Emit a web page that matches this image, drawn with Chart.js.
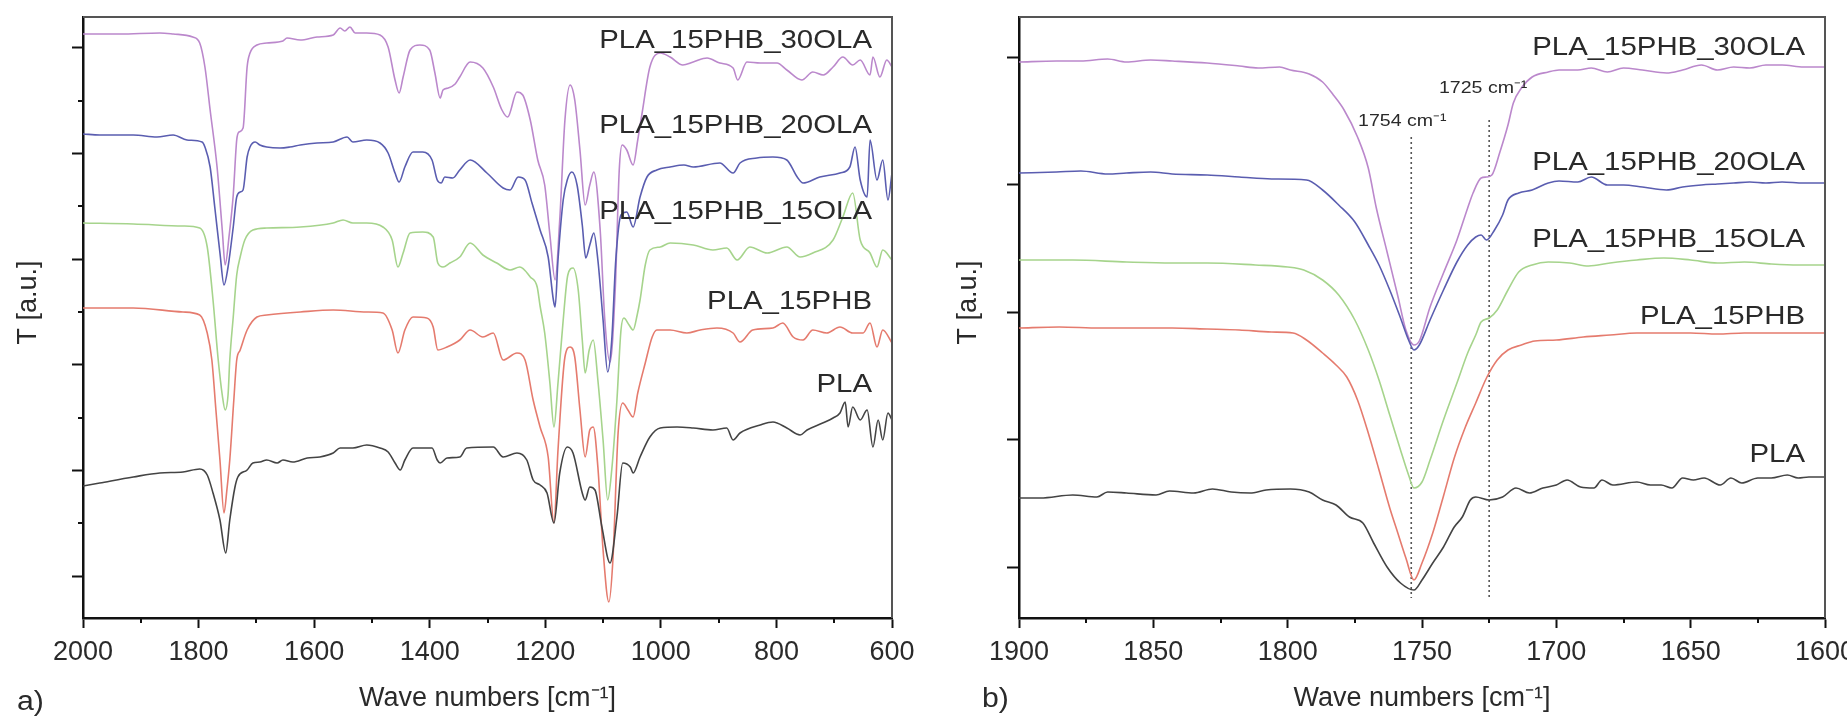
<!DOCTYPE html>
<html>
<head>
<meta charset="utf-8">
<script src="https://cdn.jsdelivr.net/npm/chart.js@4.4.1/dist/chart.umd.min.js"></script>
<style>
html,body{margin:0;padding:0;background:#fff;overflow:hidden;width:1847px;height:723px;}
#wa{position:absolute;left:0;top:0;width:930px;height:723px;}
#wb{position:absolute;left:930px;top:0;width:917px;height:723px;}
canvas{display:block;}
</style>
</head>
<body>
<div id="wa"><canvas id="ca" width="930" height="723"></canvas></div>
<div id="wb"><canvas id="cb" width="917" height="723"></canvas></div>
<script>
// ---------- series ----------
const seriesNames = ['PLA', 'PLA_15PHB', 'PLA_15PHB_15OLA', 'PLA_15PHB_20OLA', 'PLA_15PHB_30OLA'];

// ---------- panel a : 2000-600 cm-1 (T in a.u.) ----------
const a_PLA_wn = [2000,1971,1913,1867,1827,1798,1785,1775,1763,1753,1746,1737,1732,1716,1706,1694,1682,1664,1654,1637,1612,1590,1567,1555,1533,1509,1486,1472,1460,1451,1443,1429,1396,1387,1382,1370,1348,1336,1290,1273,1249,1232,1221,1209,1197,1185,1175,1162,1152,1136,1131,1123,1114,1102,1088,1076,1066,1053,1048,1036,1019,1001,972,944,910,886,875,863,828,806,782,759,747,720,702,690,681,676,668,655,643,633,624,616,607,600];
const a_PLA_T  = [132,135,141,145,146,149,143,125,98,65,98,131,141,148,155,156,158,155,158,156,160,161,165,170,170,173,170,166,155,148,158,170,170,158,155,160,161,170,171,161,165,158,138,133,125,95,145,171,165,125,118,131,128,91,55,101,155,151,145,161,181,190,191,190,188,190,178,185,193,196,190,183,188,195,200,205,216,191,211,198,208,171,198,178,205,198];

const a_PHB_wn = [2000,1913,1827,1798,1785,1777,1770,1763,1756,1751,1746,1739,1734,1728,1716,1699,1682,1624,1567,1509,1481,1465,1455,1443,1429,1405,1394,1386,1370,1348,1330,1308,1290,1273,1249,1235,1221,1209,1195,1185,1178,1166,1157,1149,1140,1131,1123,1117,1109,1100,1090,1083,1074,1066,1057,1048,1040,1027,1015,1007,984,955,932,903,875,863,841,806,789,771,754,737,713,690,668,650,638,626,616,600];
const a_PHB_T  = [310,310,306,303,285,258,208,158,105,128,158,218,258,268,288,301,303,306,308,306,305,288,265,288,301,300,291,268,271,278,288,281,285,258,265,258,218,191,161,95,168,261,271,261,208,161,188,191,151,68,16,58,185,215,208,201,225,255,281,288,288,285,288,290,285,276,288,290,295,281,278,288,285,291,285,285,295,271,288,275];

const a_15OLA_wn = [2000,1913,1827,1798,1785,1775,1766,1759,1754,1749,1746,1740,1734,1728,1720,1706,1682,1624,1567,1550,1533,1509,1481,1465,1455,1446,1434,1412,1394,1386,1377,1365,1348,1330,1308,1284,1261,1244,1226,1214,1209,1201,1192,1185,1178,1169,1161,1152,1143,1136,1131,1124,1117,1109,1100,1092,1085,1076,1069,1064,1055,1048,1041,1036,1027,1019,1001,984,944,910,886,868,846,816,782,759,737,702,685,668,655,638,626,616,600];
const a_15OLA_T  = [395,394,392,390,371,318,258,223,208,223,258,301,343,361,378,388,390,391,395,398,395,395,391,378,351,365,385,386,381,355,351,355,361,375,363,355,348,351,341,331,312,285,235,191,235,298,343,350,328,278,245,268,278,238,178,118,148,218,288,300,293,288,303,318,353,368,371,375,373,368,370,358,371,365,371,361,365,378,401,425,378,365,351,368,358];

const a_20OLA_wn = [2000,1971,1913,1872,1844,1820,1794,1789,1780,1772,1763,1756,1749,1740,1734,1728,1723,1716,1711,1702,1694,1682,1659,1642,1624,1595,1567,1543,1533,1509,1486,1472,1460,1453,1443,1429,1412,1396,1387,1380,1374,1360,1348,1330,1301,1273,1261,1247,1235,1223,1209,1195,1186,1183,1178,1169,1162,1154,1145,1136,1130,1123,1116,1109,1100,1092,1085,1078,1069,1059,1048,1036,1024,1007,984,960,944,898,875,863,834,806,782,764,754,725,690,673,664,655,643,638,626,616,607,600];
const a_20OLA_T  = [484,483,483,481,483,478,476,471,451,411,365,333,351,391,421,426,428,461,471,476,473,471,470,471,473,475,476,481,476,478,475,465,445,436,451,466,466,458,438,435,441,440,448,458,445,430,428,441,438,415,388,361,318,311,358,418,438,446,433,393,360,373,385,358,298,246,278,358,403,406,391,421,441,448,451,453,451,455,445,455,460,461,458,441,435,441,445,451,471,438,421,478,438,458,418,445];

const a_30OLA_wn = [2000,1936,1867,1844,1810,1798,1789,1780,1768,1759,1754,1747,1740,1734,1730,1723,1716,1711,1699,1682,1654,1647,1624,1595,1567,1555,1547,1538,1529,1509,1486,1472,1460,1453,1446,1434,1417,1400,1391,1382,1377,1368,1356,1348,1330,1308,1290,1275,1265,1249,1239,1226,1213,1201,1192,1183,1175,1166,1157,1149,1140,1131,1123,1116,1105,1097,1088,1079,1072,1067,1059,1048,1040,1033,1019,1001,984,962,944,920,898,875,867,851,828,799,782,756,737,719,702,685,668,655,638,633,621,609,600];
const a_30OLA_T  = [584,584,585,584,581,575,551,508,451,388,353,383,423,478,486,490,551,565,573,575,577,580,578,581,583,590,587,591,585,585,583,571,538,525,541,568,573,568,545,520,528,530,534,541,556,550,531,508,501,526,523,498,458,433,383,338,398,498,533,518,468,413,433,446,388,298,256,328,448,473,468,453,478,503,551,565,561,553,556,560,555,550,538,556,555,555,548,538,546,543,551,561,553,558,543,561,541,558,551];

const a_xTicks = [2000,1800,1600,1400,1200,1000,800,600];
const a_xMinor = [1900,1700,1500,1300,1100,900,700];
const a_yMajor = [42,147.6,253.2,358.8,464.4,570];
const a_yMinor = [94.8,200.4,306,411.6,517.2];

// ---------- panel b : 1900-1600 cm-1 ----------
const b_PLA_wn = [1900,1892,1880,1871,1867,1860,1849,1844,1835,1828,1821,1814,1808,1799,1792,1787,1782,1777,1772,1768,1763,1758,1753,1750,1746,1742,1738,1735,1732,1730,1725,1720,1715,1710,1705,1700,1696,1691,1686,1683,1679,1670,1665,1661,1657,1653,1649,1645,1639,1635,1631,1625,1620,1614,1610,1606,1600];
const b_PLA_T  = [120,120,123,121,126,125,123,127,125,129,126,125,128,129,126,118,113,101,95,75,51,35,28,38,55,71,91,101,118,121,118,121,130,125,130,133,138,131,130,138,133,136,133,133,130,140,138,140,133,140,135,140,140,143,140,141,141];

const b_PHB_wn = [1900,1885,1870,1855,1843,1830,1818,1806,1798,1793,1787,1782,1778,1774,1770,1766,1762,1759,1756,1753,1750,1746,1742,1738,1734,1730,1726,1722,1718,1713,1708,1700,1690,1680,1670,1660,1650,1640,1630,1620,1610,1600];
const b_PHB_T  = [290,291,290,290,290,289,288,286,285,278,265,253,241,218,185,148,110,85,60,38,55,85,122,160,190,215,240,258,268,273,277,278,281,283,285,285,285,284,285,285,285,285];

const b_15OLA_wn = [1900,1880,1860,1843,1830,1812,1800,1794,1787,1781,1775,1770,1766,1762,1758,1755,1753,1750,1747,1742,1737,1733,1730,1728,1725,1722,1718,1714,1709,1703,1695,1688,1680,1670,1660,1650,1640,1630,1620,1610,1600];
const b_15OLA_T  = [358,358,356,355,355,353,351,348,338,323,298,268,238,203,168,143,130,136,158,198,235,265,283,296,300,308,328,346,353,356,355,352,355,358,360,358,355,356,354,353,353];

const b_20OLA_wn = [1900,1886,1877,1867,1860,1851,1843,1830,1818,1806,1793,1787,1781,1775,1770,1766,1762,1758,1755,1753,1751,1747,1742,1737,1733,1730,1728,1726,1723,1720,1718,1714,1709,1703,1699,1692,1687,1681,1675,1668,1659,1653,1646,1640,1634,1628,1622,1616,1608,1600];
const b_20OLA_T  = [445,446,447,444,445,446,444,443,441,439,438,428,413,396,373,353,328,300,278,268,273,298,328,356,373,381,383,378,388,403,418,425,428,435,437,436,441,433,433,431,428,431,433,434,435,436,435,436,435,435];

const b_30OLA_wn = [1900,1886,1877,1867,1860,1851,1843,1830,1818,1811,1803,1799,1792,1787,1783,1779,1774,1770,1767,1763,1759,1756,1753,1751,1747,1742,1737,1733,1731,1728,1726,1724,1721,1718,1716,1713,1709,1703,1699,1692,1687,1681,1675,1668,1659,1653,1646,1640,1634,1628,1622,1616,1608,1600];
const b_30OLA_T  = [556,557,557,559,556,558,557,555,552,550,551,548,544,536,523,508,481,450,410,366,322,288,273,277,311,345,378,410,425,440,441,443,466,493,515,530,541,546,548,548,550,546,550,548,545,548,553,548,551,550,553,553,551,551];

const b_xTicks = [1900,1850,1800,1750,1700,1650,1600];
const b_xMinor = [1875,1825,1775,1725,1675,1625];
const b_yMajor = [51,178.5,306,433.5,561];
const b_yMinor = [];

// marked bands (dotted guide lines)
const b_marks = [1754, 1725];
const b_markTop = [481, 498];
const b_markBottom = [20, 20];

// ---------- styling ----------
const FONT = "'Liberation Sans', Arial, Helvetica, sans-serif";
const TXT = '#2a2a2a';
const AX = '#111111';
const seriesColors = ['#444444', '#e57b6e', '#a6d48c', '#5a5db0', '#bb88cc'];

function series(wn, T, i) {
  return {
    label: seriesNames[i],
    data: wn.map((x, k) => ({x: x, y: T[k]})),
    borderColor: seriesColors[i],
    borderWidth: 1.6,
    pointRadius: 0,
    fill: false,
    cubicInterpolationMode: 'monotone'
  };
}

function stretchText(ctx, text, x, y, align, sx, size) {
  ctx.save();
  ctx.font = size + 'px ' + FONT;
  ctx.fillStyle = TXT;
  ctx.textBaseline = 'middle';
  ctx.textAlign = align;
  ctx.translate(x, y);
  ctx.scale(sx, 1);
  ctx.fillText(text, 0, 0);
  ctx.restore();
}

function decor(id, conf) {
  return {
    id: 'decor' + id,
    afterDraw(chart) {
      const ctx = chart.ctx, ca = chart.chartArea;
      const xs = chart.scales.x, ys = chart.scales.y;
      ctx.save();
      ctx.strokeStyle = '#555';
      ctx.lineWidth = 2;
      ctx.beginPath();
      ctx.moveTo(ca.left, ca.top);
      ctx.lineTo(ca.right, ca.top);
      ctx.lineTo(ca.right, ca.bottom);
      ctx.stroke();
      ctx.strokeStyle = AX;
      ctx.lineWidth = 2;
      conf.xMinor.forEach(v => {
        const p = Math.round(xs.getPixelForValue(v));
        ctx.beginPath(); ctx.moveTo(p, ca.bottom); ctx.lineTo(p, ca.bottom + 5); ctx.stroke();
      });
      conf.yMinor.forEach(v => {
        const p = Math.round(ys.getPixelForValue(v));
        ctx.beginPath(); ctx.moveTo(ca.left, p); ctx.lineTo(ca.left - 5, p); ctx.stroke();
      });
      ctx.restore();
      conf.texts.forEach(t => {
        const x = t.x(ca, xs);
        stretchText(ctx, t.text, x, t.y, t.align, t.sx, t.size);
      });
    }
  };
}

function makeChart(canvasId, c) {
  return new Chart(document.getElementById(canvasId), {
    type: 'line',
    data: {datasets: c.datasets},
    options: {
      responsive: false,
      animation: false,
      devicePixelRatio: 1,
      events: [],
      layout: {padding: c.padding},
      plugins: {legend: {display: false}, tooltip: {enabled: false}},
      scales: {
        x: {
          type: 'linear', position: 'bottom', min: c.xMin, max: c.xMax, reverse: true,
          afterBuildTicks: s => { s.ticks = c.xTicks.map(v => ({value: v})); },
          afterFit: s => { s.height = c.xHeight; s.paddingLeft = 0; s.paddingRight = 0; },
          ticks: {callback: v => String(v), font: {family: FONT, size: 27}, color: TXT, padding: 8, maxRotation: 0, autoSkip: false},
          grid: {drawOnChartArea: false, drawTicks: true, tickLength: 10, tickWidth: 2, tickColor: AX},
          border: {display: true, color: AX, width: 2.5},
          title: {display: true, text: 'Wave numbers [cm⁻¹]', font: {family: FONT, size: 27}, color: TXT, padding: {top: 0, bottom: 8}}
        },
        y: {
          type: 'linear', position: 'left', min: 0, max: 601,
          afterBuildTicks: s => { s.ticks = c.yMajor.map(v => ({value: v})); },
          afterFit: s => { s.width = c.yWidth; s.paddingTop = 0; s.paddingBottom = 0; },
          ticks: {display: false},
          grid: {drawOnChartArea: false, drawTicks: true, tickLength: c.yTick, tickWidth: 2, tickColor: AX},
          border: {display: true, color: AX, width: 2.5},
          title: {display: true, text: '    T [a.u.]', font: {family: FONT, size: 27}, color: TXT, padding: {top: c.yTitlePad, bottom: 0}}
        }
      }
    },
    plugins: [decor(canvasId, c)]
  });
}

// ---------- panel a ----------
makeChart('ca', {
  xMin: 600, xMax: 2000, xTicks: a_xTicks, xMinor: a_xMinor, yMajor: a_yMajor, yMinor: a_yMinor,
  padding: {left: 0, top: 17, right: 38, bottom: 0},
  xHeight: 105, yWidth: 83, yTick: 11, yTitlePad: 12,
  datasets: [
    series(a_PLA_wn, a_PLA_T, 0),
    series(a_PHB_wn, a_PHB_T, 1),
    series(a_15OLA_wn, a_15OLA_T, 2),
    series(a_20OLA_wn, a_20OLA_T, 3),
    series(a_30OLA_wn, a_30OLA_T, 4)
  ],
  texts: [
    {text: seriesNames[4], x: ca => ca.right - 20, y: 41, align: 'right', sx: 1.13, size: 26},
    {text: seriesNames[3], x: ca => ca.right - 20, y: 126, align: 'right', sx: 1.13, size: 26},
    {text: seriesNames[2], x: ca => ca.right - 20, y: 212, align: 'right', sx: 1.13, size: 26},
    {text: seriesNames[1], x: ca => ca.right - 20, y: 302, align: 'right', sx: 1.13, size: 26},
    {text: seriesNames[0], x: ca => ca.right - 20, y: 385, align: 'right', sx: 1.13, size: 26},
    {text: 'a)', x: () => 17, y: 703, align: 'left', sx: 1.12, size: 27}
  ]
});

// ---------- panel b ----------
const markSets = b_marks.map((w, i) => ({
  label: w + ' cm-1',
  data: [{x: w, y: b_markTop[i]}, {x: w, y: b_markBottom[i]}],
  borderColor: '#555',
  borderWidth: 1.6,
  borderDash: [2, 3],
  pointRadius: 0,
  tension: 0,
  cubicInterpolationMode: 'default',
  fill: false
}));

makeChart('cb', {
  xMin: 1600, xMax: 1900, xTicks: b_xTicks, xMinor: b_xMinor, yMajor: b_yMajor, yMinor: b_yMinor,
  padding: {left: 0, top: 17, right: 22, bottom: 0},
  xHeight: 105, yWidth: 89, yTick: 12, yTitlePad: 22,
  datasets: [
    series(b_PLA_wn, b_PLA_T, 0),
    series(b_PHB_wn, b_PHB_T, 1),
    series(b_15OLA_wn, b_15OLA_T, 2),
    series(b_20OLA_wn, b_20OLA_T, 3),
    series(b_30OLA_wn, b_30OLA_T, 4)
  ].concat(markSets),
  texts: [
    {text: seriesNames[4], x: ca => ca.right - 20, y: 48, align: 'right', sx: 1.13, size: 26},
    {text: seriesNames[3], x: ca => ca.right - 20, y: 163, align: 'right', sx: 1.13, size: 26},
    {text: seriesNames[2], x: ca => ca.right - 20, y: 240, align: 'right', sx: 1.13, size: 26},
    {text: seriesNames[1], x: ca => ca.right - 20, y: 317, align: 'right', sx: 1.13, size: 26},
    {text: seriesNames[0], x: ca => ca.right - 20, y: 455, align: 'right', sx: 1.13, size: 26},
    {text: '1754 cm⁻¹', x: (ca, xs) => xs.getPixelForValue(b_marks[0]) - 9, y: 121, align: 'center', sx: 1.15, size: 17},
    {text: '1725 cm⁻¹', x: (ca, xs) => xs.getPixelForValue(b_marks[1]) - 6, y: 88, align: 'center', sx: 1.15, size: 17},
    {text: 'b)', x: () => 52, y: 700, align: 'left', sx: 1.12, size: 27}
  ]
});
</script>
</body>
</html>
